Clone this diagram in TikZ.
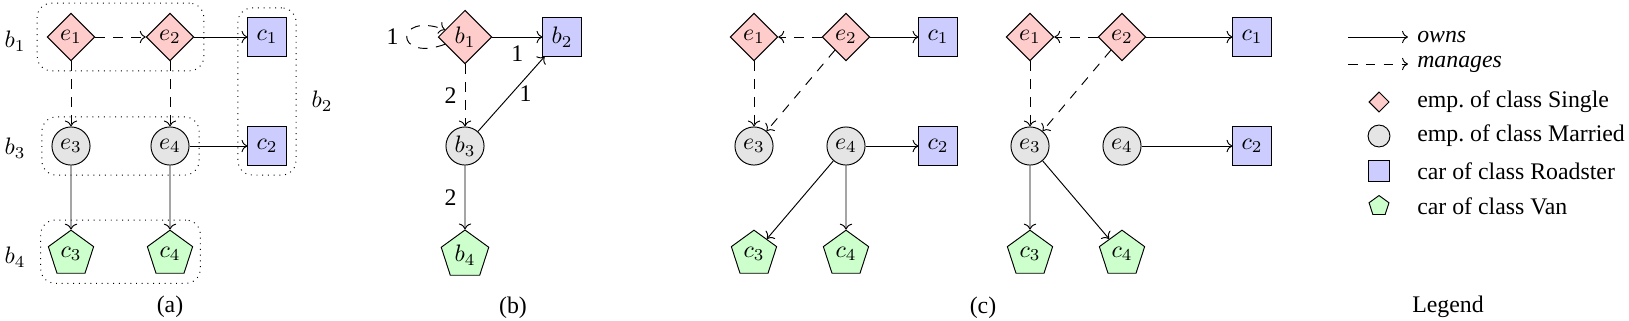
\documentclass[tikz,border=0pt]{standalone}
\usepackage{fontspec}
\setmainfont{Liberation Serif}
\usetikzlibrary{arrows.meta,positioning,shapes.geometric,fit}

\begin{document}
\begin{tikzpicture}[x=0.42pt,y=-0.42pt,>=To,
  single/.style={diamond,draw,fill=red!20,minimum size=20pt,inner sep=0pt},
  married/.style={circle,draw,fill=gray!20,minimum size=16pt,inner sep=0pt},
  roadster/.style={rectangle,draw,fill=blue!20,minimum size=16pt,inner sep=0pt},
  van/.style={regular polygon,regular polygon sides=5,draw,fill=green!20,minimum size=20pt,inner sep=0pt},
  mng/.style={->,dash pattern=on 4pt off 3.5pt},
  grp/.style={draw,dotted,rounded corners=6pt,inner sep=4pt},
  lgd/.style={anchor=west,inner sep=2pt}]
\useasboundingbox (0,0) rectangle (1629,320);
% (a)
\node[single] (ae1) at (71,37) {$e_1$};
\node[single] (ae2) at (170,37) {$e_2$};
\node[roadster] (ac1) at (267,37) {$c_1$};
\node[married] (ae3) at (71,146) {$e_3$};
\node[married] (ae4) at (170,146) {$e_4$};
\node[roadster] (ac2) at (267,146) {$c_2$};
\node[van] (ac3) at (71,254) {$c_3$};
\node[van] (ac4) at (170,254) {$c_4$};
\draw[mng] (ae1)--(ae2);
\draw[mng] (ae1)--(ae3);
\draw[mng] (ae2)--(ae4);
\draw[->] (ae2)--(ac1);
\draw[->] (ae4)--(ac2);
\draw[->] (ae3)--(ac3);
\draw[->] (ae4)--(ac4);
\node[grp,fit=(ae1)(ae2)] (ab1) {};
\node[grp,fit=(ac1)(ac2)] (ab2) {};
\node[grp,fit=(ae3)(ae4)] (ab3) {};
\node[grp,fit=(ac3)(ac4)] (ab4) {};
\node (lb1) at (15,41) {$b_1$};
\node (lb2) at (322,101) {$b_2$};
\node (lb3) at (15,148) {$b_3$};
\node (lb4) at (15,257) {$b_4$};
\node (capa) at (170,307) {(a)};
% (b)
\node[single,minimum size=22.5pt] (bb1) at (465,37) {$b_1$};
\node[roadster] (bb2) at (562,37) {$b_2$};
\node[married] (bb3) at (465,146) {$b_3$};
\node[van,minimum size=21pt] (bb4) at (465,255) {$b_4$};
\draw[mng] (bb1) to[out=200,in=160,distance=8mm] node[left]{1} (bb1);
\draw[->] (bb1)--node[below]{1}(bb2);
\draw[mng] (bb1)--node[left]{2}(bb3);
\draw[->] (bb3)--node[right]{1}(bb2);
\draw[->] (bb3)--node[left]{2}(bb4);
\node (capb) at (513,308) {(b)};
% (c), left
\node[single] (ce1) at (754,37) {$e_1$};
\node[single] (ce2) at (846,37) {$e_2$};
\node[roadster] (cc1) at (938,37) {$c_1$};
\node[married] (ce3) at (754,146) {$e_3$};
\node[married] (ce4) at (846,146) {$e_4$};
\node[roadster] (cc2) at (938,146) {$c_2$};
\node[van] (cc3) at (754,254) {$c_3$};
\node[van] (cc4) at (846,254) {$c_4$};
\draw[mng] (ce2)--(ce1);
\draw[mng] (ce1)--(ce3);
\draw[mng] (ce2)--(ce3);
\draw[->] (ce2)--(cc1);
\draw[->] (ce4)--(cc2);
\draw[->] (ce4)--(cc3);
\draw[->] (ce4)--(cc4);
% (c), right
\node[single] (de1) at (1030,37) {$e_1$};
\node[single] (de2) at (1122,37) {$e_2$};
\node[roadster] (dc1) at (1252,37) {$c_1$};
\node[married] (de3) at (1030,146) {$e_3$};
\node[married] (de4) at (1122,146) {$e_4$};
\node[roadster] (dc2) at (1252,146) {$c_2$};
\node[van] (dc3) at (1030,254) {$c_3$};
\node[van] (dc4) at (1122,254) {$c_4$};
\draw[mng] (de2)--(de1);
\draw[mng] (de1)--(de3);
\draw[mng] (de2)--(de3);
\draw[->] (de2)--(dc1);
\draw[->] (de4)--(dc2);
\draw[->] (de3)--(dc3);
\draw[->] (de3)--(dc4);
\node (capc) at (983,308) {(c)};
% legend
\coordinate (lo) at (1348,37);
\coordinate (lm) at (1348,64);
\node[lgd] (owns) at (1412,37) {\textit{owns}};
\node[lgd] (manages) at (1412,64) {\textit{manages}};
\draw[->,shorten >=1.7pt] (lo)--(owns);
\draw[mng,shorten >=1.7pt] (lm)--(manages);
\node[single,minimum size=8.5pt] (ls) at (1379,102) {};
\node[married,minimum size=9.2pt] (lmar) at (1379,136) {};
\node[roadster,minimum size=9.2pt] (lr) at (1379,171) {};
\node[van,minimum size=8.8pt] (lv) at (1379,206) {};
\node[lgd] (ts) at (1412,102) {emp.\ of class Single};
\node[lgd] (tm) at (1412,136) {emp.\ of class Married};
\node[lgd] (tr) at (1412,171) {car of class Roadster};
\node[lgd] (tv) at (1412,206) {car of class Van};
\node (capl) at (1448,307) {Legend};
\end{tikzpicture}
\end{document}
